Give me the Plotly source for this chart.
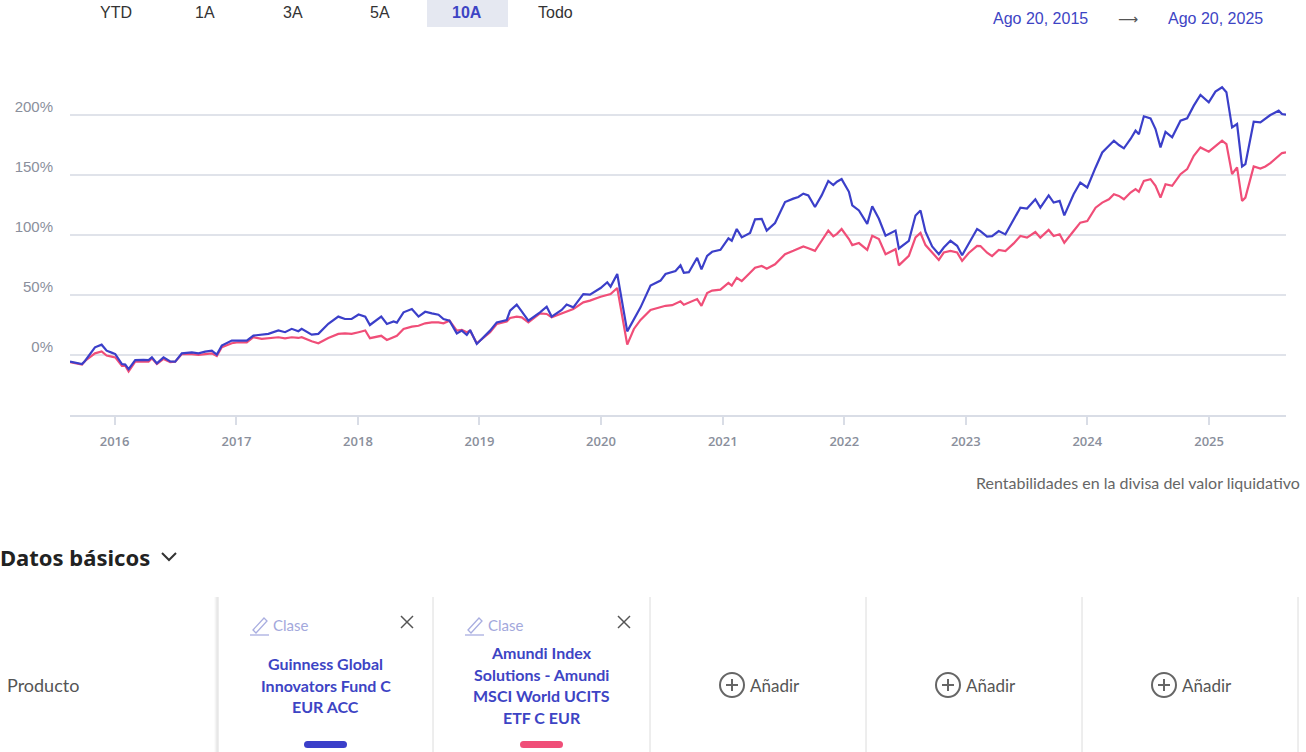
import plotly.graph_objects as go

W, H = 1306, 752

# ---------------- data (cumulative return, %) ----------------
dates = [
    "2015-08-20", "2015-09-25", "2015-10-04", "2015-11-03", "2015-11-23", "2015-12-08", "2015-12-23",
    "2016-01-03", "2016-01-23", "2016-02-02", "2016-02-12", "2016-03-03", "2016-03-28", "2016-04-12",
    "2016-04-22", "2016-05-07", "2016-05-27", "2016-06-16", "2016-07-01", "2016-07-21", "2016-08-20",
    "2016-09-09", "2016-09-29", "2016-10-19", "2016-11-03", "2016-11-18", "2016-12-18",
    "2017-01-07", "2017-02-01", "2017-02-21", "2017-03-18", "2017-04-07", "2017-05-07", "2017-05-27",
    "2017-06-16", "2017-07-06", "2017-07-16", "2017-08-15", "2017-09-04", "2017-10-04", "2017-11-03",
    "2017-11-23", "2017-12-13",
    "2018-01-03", "2018-01-23", "2018-02-06", "2018-03-12", "2018-03-29", "2018-04-18", "2018-04-28",
    "2018-05-18", "2018-06-12", "2018-07-02", "2018-07-22", "2018-08-11", "2018-08-31", "2018-09-15",
    "2018-10-03", "2018-10-25", "2018-11-09", "2018-11-24", "2018-12-04", "2018-12-24",
    "2019-02-02", "2019-02-22", "2019-03-24", "2019-04-03", "2019-04-23", "2019-05-08", "2019-05-28",
    "2019-07-02", "2019-07-22", "2019-08-06", "2019-09-05", "2019-09-20", "2019-10-10", "2019-11-09",
    "2019-11-29", "2019-12-31",
    "2020-01-20", "2020-01-30", "2020-02-19", "2020-03-20", "2020-04-09", "2020-04-29", "2020-05-29",
    "2020-06-28", "2020-07-13", "2020-08-02", "2020-08-12", "2020-08-27", "2020-09-06", "2020-09-21",
    "2020-10-16", "2020-10-29", "2020-11-15", "2020-11-30", "2020-12-25",
    "2021-01-18", "2021-01-28", "2021-02-12", "2021-02-27", "2021-03-24", "2021-04-08", "2021-04-28",
    "2021-05-13", "2021-06-07", "2021-07-07", "2021-08-01", "2021-08-16", "2021-08-31", "2021-09-15",
    "2021-10-05", "2021-10-25", "2021-11-14", "2021-11-29", "2021-12-10", "2021-12-24",
    "2022-01-15", "2022-01-25", "2022-02-14", "2022-03-11", "2022-03-26", "2022-04-15", "2022-05-05",
    "2022-06-04", "2022-06-14", "2022-07-14", "2022-08-03", "2022-08-18", "2022-09-02", "2022-09-22",
    "2022-10-12", "2022-10-27", "2022-11-16", "2022-12-06", "2022-12-21",
    "2023-01-10", "2023-02-04", "2023-02-14", "2023-03-06", "2023-03-21", "2023-04-10", "2023-04-30",
    "2023-05-25", "2023-06-14", "2023-07-04", "2023-07-29", "2023-08-13", "2023-09-07", "2023-09-22",
    "2023-10-10", "2023-10-24", "2023-11-21", "2023-12-11",
    "2024-01-01", "2024-01-26", "2024-02-15", "2024-03-06", "2024-03-21", "2024-04-05", "2024-04-20",
    "2024-05-10", "2024-05-25", "2024-06-04", "2024-06-19", "2024-07-09", "2024-07-24", "2024-08-08",
    "2024-08-23", "2024-09-12", "2024-10-07", "2024-10-27", "2024-11-16", "2024-12-06", "2024-12-31",
    "2025-01-20", "2025-02-09", "2025-02-22", "2025-03-11", "2025-03-26", "2025-04-10", "2025-04-20",
    "2025-05-05", "2025-05-15", "2025-06-04", "2025-06-19", "2025-07-04", "2025-07-29", "2025-08-08",
    "2025-08-20",
]

guinness = [
    -5.5, -7.5, -5, 6.4, 8.6, 3.6, 2,
    0.8, -7.5, -8, -11.7, -4.2, -4, -4.2, -2, -7, -2, -5.3, -5.6, 1.4, 2.2, 1.4, 2.8, 3.6, 0.3, 7.8, 12,
    12, 12, 16.2, 17, 17.6, 20.4, 19, 21.8, 19.8, 21.8, 17, 17.6, 26, 32, 30, 30,
    33.7, 32, 25, 32, 25.8, 28, 27, 35.6, 38.3, 32, 36, 34.7, 33.6, 30, 28.6, 18, 20.3, 16.7, 20.8, 9.2,
    20.3, 27.2, 29.2, 36.9, 42, 36.4, 28.6, 35.6, 40.3, 32, 37.5, 42, 39.7, 50.8, 50.3, 55.8,
    60.6, 57, 67.5, 19.7, 30, 39.7, 57.8, 62, 67.5, 68.9, 70, 74.7, 68.5, 69, 81, 71.3, 82.6, 86, 87.6,
    97.2, 95.2, 105, 98, 101.7, 113, 113.5, 103.6, 110, 127.5, 130.3, 131.7, 134.5, 133, 123.3, 133,
    145, 141.6, 144.4, 146.6,
    136, 124.7, 120.5, 109.3, 124, 113.5, 99.4, 103.7, 88.8, 95.2, 116.3, 120.5, 102.8, 90.5, 84, 89.6,
    95.2, 91, 83.1,
    92.4, 105, 103.3, 98.6, 99, 103.3, 100.5, 113, 122.8, 122, 129.8, 122.8, 133, 127, 128.4, 116.4,
    134, 143.7,
    139.6, 156.3, 168.8, 174.4, 178.6, 175, 172.2, 180, 187, 184, 198.9, 197.2, 188.3, 173, 186, 181.4,
    195.3, 197.2, 207.8, 216.7, 210.6,
    219.5, 223.1, 219, 189.7, 192.5, 157.1, 159, 178.6, 194.4, 193.9, 196.7, 200, 203.6, 200.8, 200.3,
]

amundi = [
    -6, -8, -5, 1.4, 3, -0.5, -1.4,
    -2, -9, -9, -13.7, -5.6, -5.3, -5.6, -2.8, -7.5, -3.3, -5.9, -5.6, 0.8, 0.8, 0, 0.8, 1.4, -0.8, 6.4, 9.8,
    10.6, 10.6, 14.8, 13.4, 14.2, 14.8, 13.9, 14.8, 14.2, 14.8, 11.4, 9.8, 14.2, 17.6, 18, 17.6,
    19, 20.4, 14, 16, 12.5, 14.7, 16, 21.7, 23.6, 24.4, 26.4, 27.2, 27.2, 26.4, 28.6, 20.3, 21, 18.9, 20.3, 9.7,
    18.9, 25.8, 28, 30.8, 32, 31.4, 27.2, 34.7, 34.2, 31.4, 34.7, 36.4, 38.3, 43.9, 45.3, 48.6,
    50.3, 50.8, 55.8, 8.6, 21.7, 29.2, 37.5, 39.7, 41, 41.5, 42.7, 44.7, 41.9, 43.8, 46.6, 41, 51.7, 53.7, 54.5,
    60.1, 57.9, 64.4, 61.6, 68.5, 72.8, 74.2, 71.9, 75.6, 84, 86.8, 88.8, 90.5, 89, 86.8, 95.2, 103.7,
    98.9, 101, 105,
    96.6, 91.6, 93.3, 87.6, 99.4, 96.6, 84, 88.2, 74.7, 82.6, 98, 101.7, 91.6, 85.4, 79.2, 85.4, 86.8,
    85.4, 78.4,
    85, 91, 90.8, 85.2, 82.4, 87.5, 86.6, 93, 99.2, 97.8, 102.5, 97.8, 104.2, 99.2, 100.6, 93.6, 103.3, 110.3,
    111.7, 122.8, 127, 129.8, 134, 132.6, 129.8, 135.4, 138.2, 136, 145.1, 146.5, 141, 131.2, 142.3, 141,
    150.7, 154.9, 166, 173, 169.4,
    174.4, 178.6, 175.8, 150.7, 156.3, 128.4, 131.2, 146.5, 157.1, 155.4, 157.1, 159.9, 166, 168.3, 168.8,
]

year_ticks = ["2016-01-01", "2017-01-01", "2018-01-01", "2019-01-01", "2020-01-01",
              "2021-01-01", "2022-01-01", "2023-01-01", "2024-01-01", "2025-01-01"]
year_labels = ["2016", "2017", "2018", "2019", "2020", "2021", "2022", "2023", "2024", "2025"]
y_ticks = [-50, 0, 50, 100, 150, 200, 250]
y_labels = ["", "0%", "50%", "100%", "150%", "200%", ""]

range_buttons = ["YTD", "1A", "3A", "5A", "10A", "Todo"]
active_button = "10A"
date_from, date_to = "Ago 20, 2015", "Ago 20, 2025"
fund_names = [["Guinness Global", "Innovators Fund C", "EUR ACC"],
              ["Amundi Index", "Solutions - Amundi", "MSCI World UCITS", "ETF C EUR"]]

BLUE = "#3b3fc9"
PINK = "#f04e78"
LINK = "#3d44c4"
GRID = "#e0e3ea"
TICKC = "#8a8f9c"


def px(x):
    return x / W


def py(y):
    return 1 - y / H


fig = go.Figure()
fig.add_trace(go.Scatter(x=dates, y=amundi, mode="lines", name=" ".join(fund_names[1]),
                         line=dict(color=PINK, width=2.2), hoverinfo="skip"))
fig.add_trace(go.Scatter(x=dates, y=guinness, mode="lines", name=" ".join(fund_names[0]),
                         line=dict(color=BLUE, width=2.2), hoverinfo="skip"))

shapes = []
annotations = []


def text(x, y, s, size=15, color="#333", family="Liberation Sans", anchor="center", weight="normal"):
    annotations.append(dict(xref="paper", yref="paper", x=px(x), y=py(y), text=s, showarrow=False,
                            xanchor=anchor, yanchor="middle",
                            font=dict(size=size, color=color, family=family, weight=weight)))


def line(x0, y0, x1, y1, color, width=1):
    shapes.append(dict(type="line", xref="paper", yref="paper", x0=px(x0), y0=py(y0), x1=px(x1),
                       y1=py(y1), line=dict(color=color, width=width), layer="above"))


# ---------- top range buttons ----------
btn_x = [116, 205, 293, 380, 467, 555]
shapes.append(dict(type="rect", xref="paper", yref="paper", x0=px(427), x1=px(508), y0=py(27), y1=py(0),
                   fillcolor="#e5e8f1", line=dict(width=0), layer="below"))
for b, bx in zip(range_buttons, btn_x):
    if b == active_button:
        text(bx, 13, "<b>%s</b>" % b, size=16, color=LINK)
    else:
        text(bx, 13, b, size=16, color="#333")

text(1040, 19, date_from, size=16, color=LINK)
text(1128, 19, "⟶", size=14, color="#555", family="DejaVu Sans")
text(1215, 19, date_to, size=16, color=LINK)

# ---------- footnote & section header ----------
text(1302, 482, "Rentabilidades en la divisa del valor liquidativo", size=16, color="#666",
     family="Lato", anchor="right")
text(-2, 557, "Datos básicos", size=22, color="#222", family="Noto Sans", anchor="left", weight="bold")
shapes.append(dict(type="path", xref="paper", yref="paper",
                   path="M %f %f L %f %f L %f %f" % (px(162), py(553), px(169), py(560), px(176), py(553)),
                   line=dict(color="#333", width=2)))

# ---------- comparison table ----------
text(5, 685, "Producto", size=18, color="#555", family="Lato", anchor="left")
for i, a in enumerate([0.03, 0.06, 0.10]):
    line(215 + i, 597, 215 + i, 752, "rgba(0,0,0,%.2f)" % a, 1)
for xb in [218, 433, 650, 866, 1082, 1298]:
    line(xb, 597, xb, 752, "#dcdcdc", 1)

cards = [(218, 433, BLUE), (433, 650, PINK)]
for (x0, x1, col), names in zip(cards, fund_names):
    cx = (x0 + x1) / 2
    # pencil icon + "Clase"
    ix = x0 + 32
    shapes.append(dict(type="path", xref="paper", yref="paper",
                       path="M %f %f L %f %f L %f %f L %f %f Z" % (
                           px(ix + 3), py(630), px(ix + 14), py(618), px(ix + 17), py(621),
                           px(ix + 6), py(633)),
                       line=dict(color="#a9aee0", width=1.3)))
    line(ix, 635, ix + 19, 635, "#a9aee0", 1.3)
    text(ix + 21, 625, "Clase", size=15, color="#a3a8dc", family="Lato", anchor="left")
    # close icon
    xc = x1 - 26
    line(xc - 6, 616, xc + 6, 628, "#555", 1.5)
    line(xc - 6, 628, xc + 6, 616, "#555", 1.5)
    # fund name
    n = len(names)
    y0 = 685 - (n - 1) * 21.5 / 2
    for k, nm in enumerate(names):
        text(cx, y0 + k * 21.5, "<b>%s</b>" % nm, size=16, color=LINK, family="Lato")
    # colour bar
    shapes.append(dict(type="rect", xref="paper", yref="paper", x0=px(cx - 18), x1=px(cx + 18),
                       y0=py(748), y1=py(741), fillcolor=col, line=dict(color=col, width=0)))
    shapes.append(dict(type="circle", xref="paper", yref="paper", x0=px(cx - 21.5), x1=px(cx - 14.5),
                       y0=py(748), y1=py(741), fillcolor=col, line=dict(width=0)))
    shapes.append(dict(type="circle", xref="paper", yref="paper", x0=px(cx + 14.5), x1=px(cx + 21.5),
                       y0=py(748), y1=py(741), fillcolor=col, line=dict(width=0)))

for (x0, x1) in [(650, 866), (866, 1082), (1082, 1298)]:
    cx = (x0 + x1) / 2
    ccx = cx - 26
    shapes.append(dict(type="circle", xref="paper", yref="paper", x0=px(ccx - 12), x1=px(ccx + 12),
                       y0=py(697), y1=py(673), line=dict(color="#666", width=2)))
    line(ccx - 6, 685, ccx + 6, 685, "#666", 2)
    line(ccx, 679, ccx, 691, "#666", 2)
    text(ccx + 16, 685, "Añadir", size=17, color="#555", family="Lato", anchor="left")

fig.update_layout(
    width=W, height=H,
    margin=dict(l=0, r=0, t=0, b=0),
    paper_bgcolor="white", plot_bgcolor="white",
    showlegend=False,
    shapes=shapes, annotations=annotations,
    xaxis=dict(
        domain=[px(70), px(1286)],
        range=[dates[0], dates[-1]],
        type="date",
        tickvals=year_ticks, ticktext=year_labels,
        showgrid=False, zeroline=False,
        showline=True, linecolor="#d9dde6", linewidth=2,
        ticks="outside", ticklen=8, tickwidth=1.5, tickcolor="#d9dde6",
        tickfont=dict(family="Open Sans", size=13, color=TICKC, weight=600),
        ticklabelstandoff=5,
        fixedrange=True,
    ),
    yaxis=dict(
        domain=[py(415), py(55)],
        range=[-50, 250],
        tickvals=y_ticks, ticktext=y_labels,
        showgrid=True, gridcolor=GRID, gridwidth=1.5,
        zeroline=False, showline=False, ticks="",
        tickfont=dict(family="Liberation Sans", size=15, color=TICKC),
        ticklabelshift=-8, ticklabelstandoff=16,
        fixedrange=True,
    ),
)

fig.write_html("out.html")
